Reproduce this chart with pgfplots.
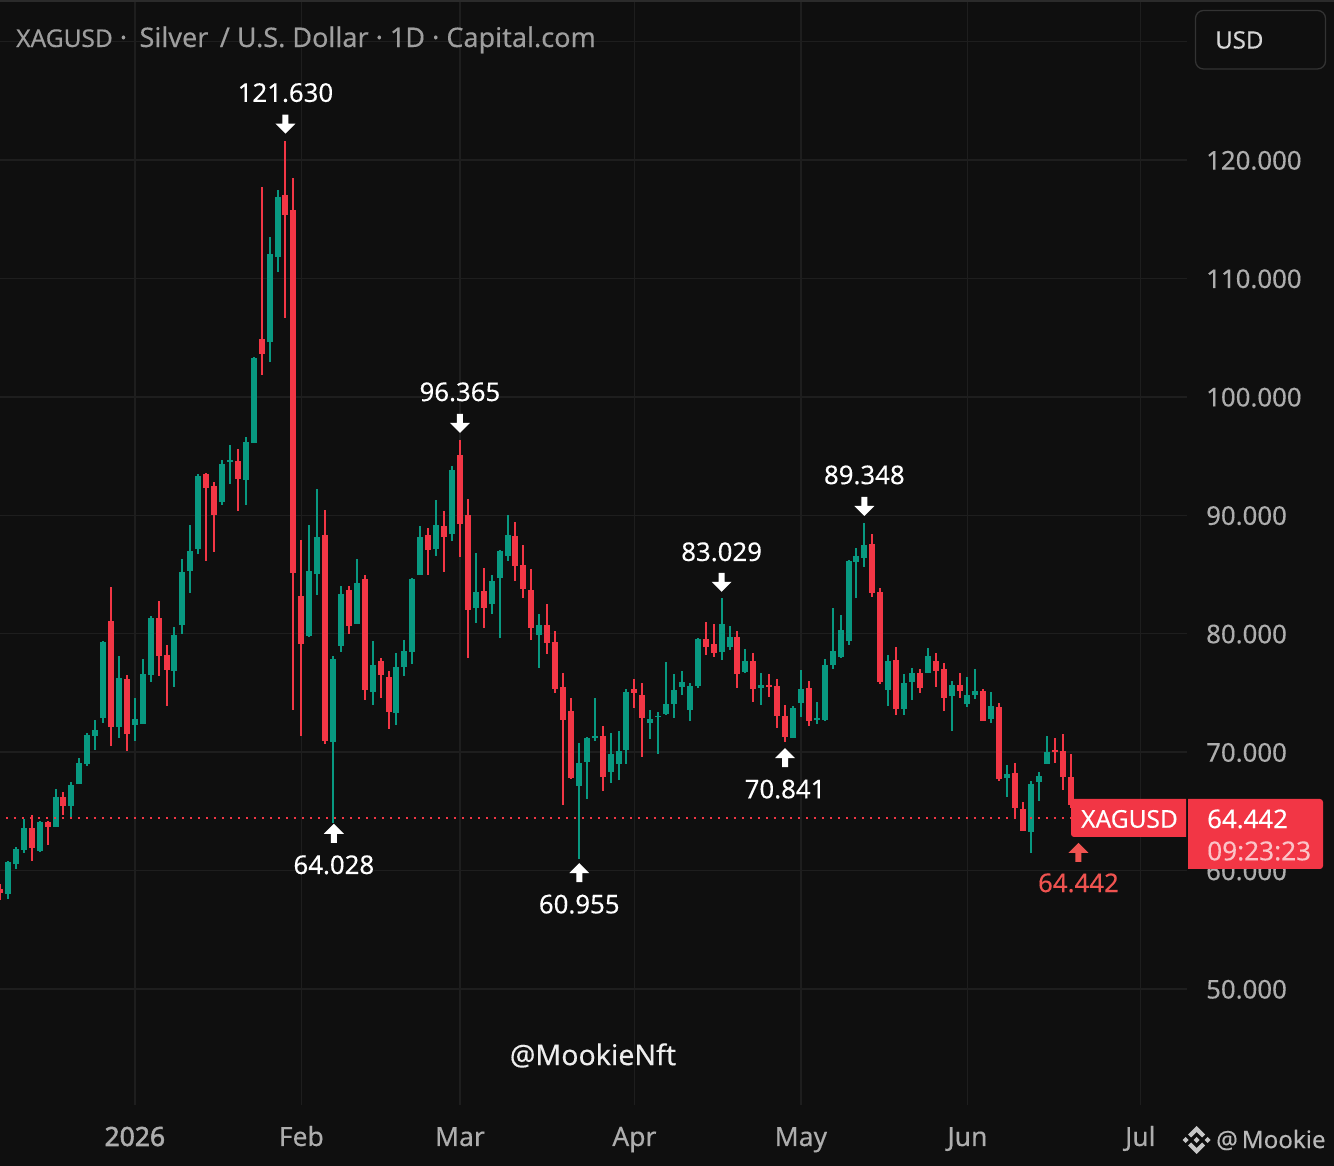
\documentclass[border=0pt]{standalone}
\usepackage{fontspec}
\setmainfont{Noto Sans}[FakeBold=0.25]
\newfontfamily\boldf{Noto Sans}[FakeBold=2]
\usepackage{pgfplots}
\usepackage{pgfplotstable}
\pgfplotsset{compat=1.18}
\definecolor{bg}{HTML}{0F0F0F}
\definecolor{gridc}{HTML}{1E1E1E}
\definecolor{upc}{HTML}{089981}
\definecolor{dnc}{HTML}{F23645}
\definecolor{ticktxt}{HTML}{ADADAD}
\definecolor{titletxt}{HTML}{9E9E9E}
\newcommand{\fz}{\fontsize{25.8}{30}\selectfont}
\pgfplotstableread{
i o h l c
0 58.45 58.87 57.51 58.11
4 63.60 64.69 60.81 61.91
6 64.10 64.19 62.16 63.68
8 66.21 66.64 64.69 65.45
14 81.07 83.94 70.52 72.12
16 76.17 76.51 70.10 71.53
20 81.33 82.76 76.43 78.12
21 78.20 79.05 73.89 76.93
26 93.49 93.57 86.14 92.30
27 92.47 92.81 86.90 90.02
30 94.58 95.60 90.36 93.06
33 104.89 117.72 101.84 103.62
36 117.04 121.63 106.66 115.35
37 115.78 118.48 73.56 85.13
38 83.18 87.91 71.36 79.13
41 88.33 90.45 70.69 70.94
44 83.69 84.03 79.98 80.65
46 84.62 84.96 74.40 75.25
48 77.69 77.95 74.57 76.51
49 76.34 76.85 71.95 73.39
54 88.33 88.93 84.96 87.07
56 89.09 90.36 85.21 88.16
58 95.09 96.37 86.48 89.26
59 90.02 91.37 77.95 82.00
61 83.61 85.55 80.48 82.17
65 88.25 89.43 84.45 85.72
66 85.80 87.49 83.01 83.78
67 83.69 85.46 79.47 80.48
69 80.74 82.51 78.29 79.22
70 79.30 80.23 75.00 75.33
71 75.50 76.68 65.54 72.71
72 73.47 74.57 67.73 67.82
76 71.36 72.21 66.72 67.90
80 75.33 76.17 73.72 75.00
81 74.82 75.84 69.59 72.88
89 79.55 80.99 78.20 78.88
90 79.13 80.82 78.03 78.37
93 79.72 80.23 75.42 76.60
95 77.69 78.37 74.23 75.33
97 75.67 76.60 74.66 75.50
98 75.59 76.17 72.04 73.05
99 73.05 73.98 70.84 71.28
102 75.42 76.01 72.21 72.63
110 87.58 88.42 83.10 83.44
111 83.52 83.86 75.75 75.92
113 77.78 78.88 73.13 73.64
116 76.68 77.02 75.00 75.42
118 77.69 78.37 75.50 76.85
119 77.02 77.53 73.47 74.57
121 75.67 76.68 74.57 75.16
124 75.16 75.33 72.63 72.63
126 73.81 74.15 67.56 67.73
128 68.24 69.08 64.36 65.28
129 65.20 65.79 63.34 63.34
133 70.18 71.19 69.08 70.01
134 70.10 71.53 66.80 67.90
135 67.90 69.84 65.28 65.54
136 65.54 65.90 64.44 64.44
}\tabDown
\pgfplotstableread{
i o h l c
1 58.02 60.81 57.60 60.73
2 60.56 61.99 60.14 61.82
3 61.74 64.36 61.49 63.60
5 61.65 64.19 61.57 64.10
7 63.68 66.89 63.68 66.21
9 65.45 67.48 64.52 67.23
10 67.31 69.51 67.31 69.08
11 69.00 71.62 68.83 71.45
12 71.36 72.71 70.18 71.87
13 72.88 79.38 72.46 79.30
15 72.12 78.12 71.19 76.26
17 72.29 74.57 70.94 72.79
18 72.37 77.87 72.37 76.60
19 76.51 81.50 75.92 81.33
22 76.85 80.57 75.50 79.89
23 80.74 86.31 79.98 85.21
24 85.29 89.18 83.44 86.98
25 87.15 93.49 86.73 93.32
28 91.12 94.67 90.87 94.33
29 94.50 95.93 92.64 94.67
31 92.98 96.61 90.87 96.19
32 96.10 103.36 96.10 103.28
34 104.63 113.50 102.94 112.06
35 111.81 117.47 110.54 116.87
39 79.81 89.18 79.72 85.29
40 85.04 92.22 83.27 88.16
42 70.86 78.12 64.03 77.87
43 78.96 84.03 78.46 83.35
45 80.82 86.31 80.82 84.28
47 75.08 79.38 73.98 77.36
50 73.30 78.37 72.29 77.19
51 77.19 79.47 76.43 78.54
52 78.46 84.70 77.44 84.62
53 84.96 89.09 84.96 88.16
55 87.15 91.29 86.56 89.18
57 88.42 94.16 87.83 93.82
60 82.17 86.81 80.90 83.52
62 82.51 84.96 81.67 84.45
63 84.70 87.07 79.64 86.98
64 86.56 90.02 86.14 88.33
68 79.89 81.67 77.10 80.74
73 67.14 70.77 60.96 69.08
74 69.17 71.28 66.04 71.19
75 71.19 74.57 70.94 71.36
77 68.32 71.62 67.39 69.84
78 69.00 71.78 67.65 70.10
79 70.18 75.33 69.00 75.08
82 72.46 73.56 71.11 72.79
83 72.97 73.39 69.84 73.05
84 73.22 77.61 73.13 74.06
85 74.06 76.60 72.88 75.25
86 75.50 76.85 74.82 75.92
87 73.56 75.84 72.63 75.59
88 75.59 79.64 75.42 79.55
91 78.46 83.03 77.78 80.82
92 78.88 80.65 78.62 79.72
94 76.77 78.71 76.68 77.69
96 75.42 76.68 73.98 75.67
100 71.19 73.89 71.19 73.72
101 74.15 76.93 72.97 75.33
103 72.71 74.23 72.37 72.88
104 72.71 77.87 72.63 77.36
105 77.36 82.17 77.02 78.54
106 78.03 81.58 77.95 80.31
107 79.38 86.22 79.05 86.14
108 86.05 87.24 83.01 86.56
109 86.39 89.35 85.63 87.49
112 75.25 78.20 73.89 77.69
114 73.64 76.60 73.13 75.84
115 75.92 77.10 74.40 76.68
117 76.68 78.79 76.68 78.12
120 74.74 76.01 71.78 75.67
122 74.06 76.34 73.81 74.82
123 74.82 77.02 74.49 75.16
125 72.79 75.08 72.46 73.89
127 67.82 68.91 66.21 68.15
130 63.26 67.56 61.49 67.31
131 67.48 68.32 65.87 67.98
132 69.00 71.36 69.00 70.01
}\tabUp
% label above a high: i, value, text, gap to arrow tip, label offset
\newcommand{\hilab}[5]{%
  \fill[white] (axis cs:#1,#2) ++(0pt,#4pt) -- ++(-10pt,10pt) -- ++(7pt,0pt) -- ++(0pt,9pt) -- ++(6pt,0pt) -- ++(0pt,-9pt) -- ++(7pt,0pt) -- cycle;
  \node[text=white,font=\fz,inner sep=0pt] at (axis cs:#1,#2) [yshift=#5pt] {#3};
}
\newcommand{\lolab}[6]{%
  \fill[#6] (axis cs:#1,#2) ++(0pt,-#4pt) -- ++(-10pt,-10pt) -- ++(7pt,0pt) -- ++(0pt,-9pt) -- ++(6pt,0pt) -- ++(0pt,9pt) -- ++(7pt,0pt) -- cycle;
  \node[text=#6,font=\fz,inner sep=0pt] at (axis cs:#1,#2) [yshift=-#5pt] {#3};
}
\begin{document}
\begin{tikzpicture}
\path[use as bounding box,fill=bg] (0,0) rectangle (1334pt,1166pt);
\begin{axis}[
  at={(0pt,61pt)},anchor=south west,
  scale only axis,width=1187pt,height=1103pt,
  xmin=0,xmax=149.685,ymin=40.20,ymax=133.34,
  clip=false,
  axis line style={draw=none},
  tick style={draw=none},major tick length=0pt,
  grid=major,grid style={color=gridc,line width=1.5pt},
  xtick={17,38,58,80,101,122,143.8},
  xticklabels={{\boldf 2026},Feb,Mar,Apr,May,Jun,Jul},
  xticklabel style={anchor=base,yshift=-41pt,font=\fontsize{26.5}{30}\selectfont,text=ticktxt,inner sep=0pt},
  ytick={50,60,70,80,90,100,110,120},
  ytick pos=right,yticklabel pos=right,
  scaled y ticks=false,
  yticklabel style={anchor=west,xshift=19pt,yshift=-0.4pt,font=\fz,text=ticktxt,inner sep=0pt,
    /pgf/number format/fixed,/pgf/number format/fixed zerofill,
    /pgf/number format/precision=3,/pgf/number format/assume math mode=true},
]
\addplot[gridc,line width=1.5pt,forget plot] coordinates {(0,130)(149.685,130)};
% wicks
\addplot[draw=none,mark=none,forget plot,error bars/.cd,y dir=both,y explicit,error mark=none,
  error bar style={dnc,line width=2pt}]
  table[x=i,y=o,y error plus expr=\thisrow{h}-\thisrow{o},y error minus expr=\thisrow{o}-\thisrow{l}] {\tabDown};
\addplot[draw=none,mark=none,forget plot,error bars/.cd,y dir=both,y explicit,error mark=none,
  error bar style={upc,line width=2pt}]
  table[x=i,y=o,y error plus expr=\thisrow{h}-\thisrow{o},y error minus expr=\thisrow{o}-\thisrow{l}] {\tabUp};
% bodies
\addplot[draw=none,mark=none,forget plot,error bars/.cd,y dir=minus,y explicit,error mark=none,
  error bar style={dnc,line width=6pt}]
  table[x=i,y=o,y error minus expr=\thisrow{o}-\thisrow{c}] {\tabDown};
\addplot[draw=none,mark=none,forget plot,error bars/.cd,y dir=plus,y explicit,error mark=none,
  error bar style={upc,line width=6pt}]
  table[x=i,y=o,y error plus expr=\thisrow{c}-\thisrow{o}] {\tabUp};
% last price line
\addplot[dnc,line width=1.6pt,dash pattern=on 2pt off 6pt,forget plot] coordinates {(0.75,64.442)(135.5,64.442)};
\hilab{36}{121.63}{121.630}{7}{48}
\hilab{58}{96.365}{96.365}{7}{48}
\hilab{91}{83.029}{83.029}{6}{46}
\hilab{109}{89.348}{89.348}{7}{48}
\lolab{42.1}{64.028}{64.028}{1}{42}{white}
\lolab{73.05}{60.955}{60.955}{4}{45}{white}
\lolab{99}{70.841}{70.841}{6}{47}{white}
\definecolor{lastlab}{HTML}{EF5350}
\lolab{136}{64.442}{64.442}{25}{65}{lastlab}
\end{axis}
\begin{scope}[x=1pt,y=-1pt,shift={(0,1166pt)}]
% top border
\fill[white!17!black] (0,0) rectangle (1334,2);
% title
\node[anchor=west,inner sep=0pt,text=titletxt,font=\fontsize{27}{32}\selectfont] at (16,40) {{\fontsize{24.5}{32}\selectfont XAGUSD} ·\hspace{5.5pt} Silver\hspace{4.4pt} / U.S. Dollar · 1D · Capital.com};
% currency button
\draw[draw=white!20!black,line width=1.3pt,rounded corners=8pt] (1195.5,10.5) rectangle (1325.5,69);
\node[anchor=west,inner sep=0pt,text=white!84!black,font=\fontsize{24}{30}\selectfont] at (1215,40) {USD};
% price labels
\fill[dnc,rounded corners=3pt] (1071,799) -- (1071,837) -- (1090,837) [sharp corners] -- (1186,837) -- (1186,799) -- cycle;
\fill[dnc,rounded corners=3pt] (1200,799) -- (1323,799) -- (1323,869) -- (1200,869) [sharp corners] -- (1188,869) -- (1188,799) -- cycle;
\node[anchor=west,inner sep=0pt,text=white,font=\fontsize{24.5}{30}\selectfont] at (1081,819) {XAGUSD};
\node[anchor=west,inner sep=0pt,text=white,font=\fz] at (1207,819) {64.442};
\node[anchor=west,inner sep=0pt,text={white!70!dnc},font=\fontsize{26.2}{30}\selectfont] at (1207,851) {09:23:23};
% watermark
\node[inner sep=0pt,text=white!93!black,font=\fontsize{28.5}{34}\selectfont] at (593,1055.5) {@MookieNft};
% brand
\begin{scope}[shift={(1196.7,1140)}]
\fill[white!78!black] (0,-14) -- (8.5,-5.5) -- (5.5,-2.5) -- (0,-8) -- (-5.5,-2.5) -- (-8.5,-5.5) -- cycle;
\fill[white!78!black] (0,14) -- (8.5,5.5) -- (5.5,2.5) -- (0,8) -- (-5.5,2.5) -- (-8.5,5.5) -- cycle;
\fill[white!78!black] (0,-3) -- (3,0) -- (0,3) -- (-3,0) -- cycle;
\fill[white!78!black] (-11,-3) -- (-8,0) -- (-11,3) -- (-14,0) -- cycle;
\fill[white!78!black] (11,-3) -- (14,0) -- (11,3) -- (8,0) -- cycle;
\end{scope}
\node[anchor=west,inner sep=0pt,text=white!72!black,font=\fontsize{24.1}{30}\selectfont] at (1216,1140) {@\,Mookie};
\end{scope}
\end{tikzpicture}
\end{document}
